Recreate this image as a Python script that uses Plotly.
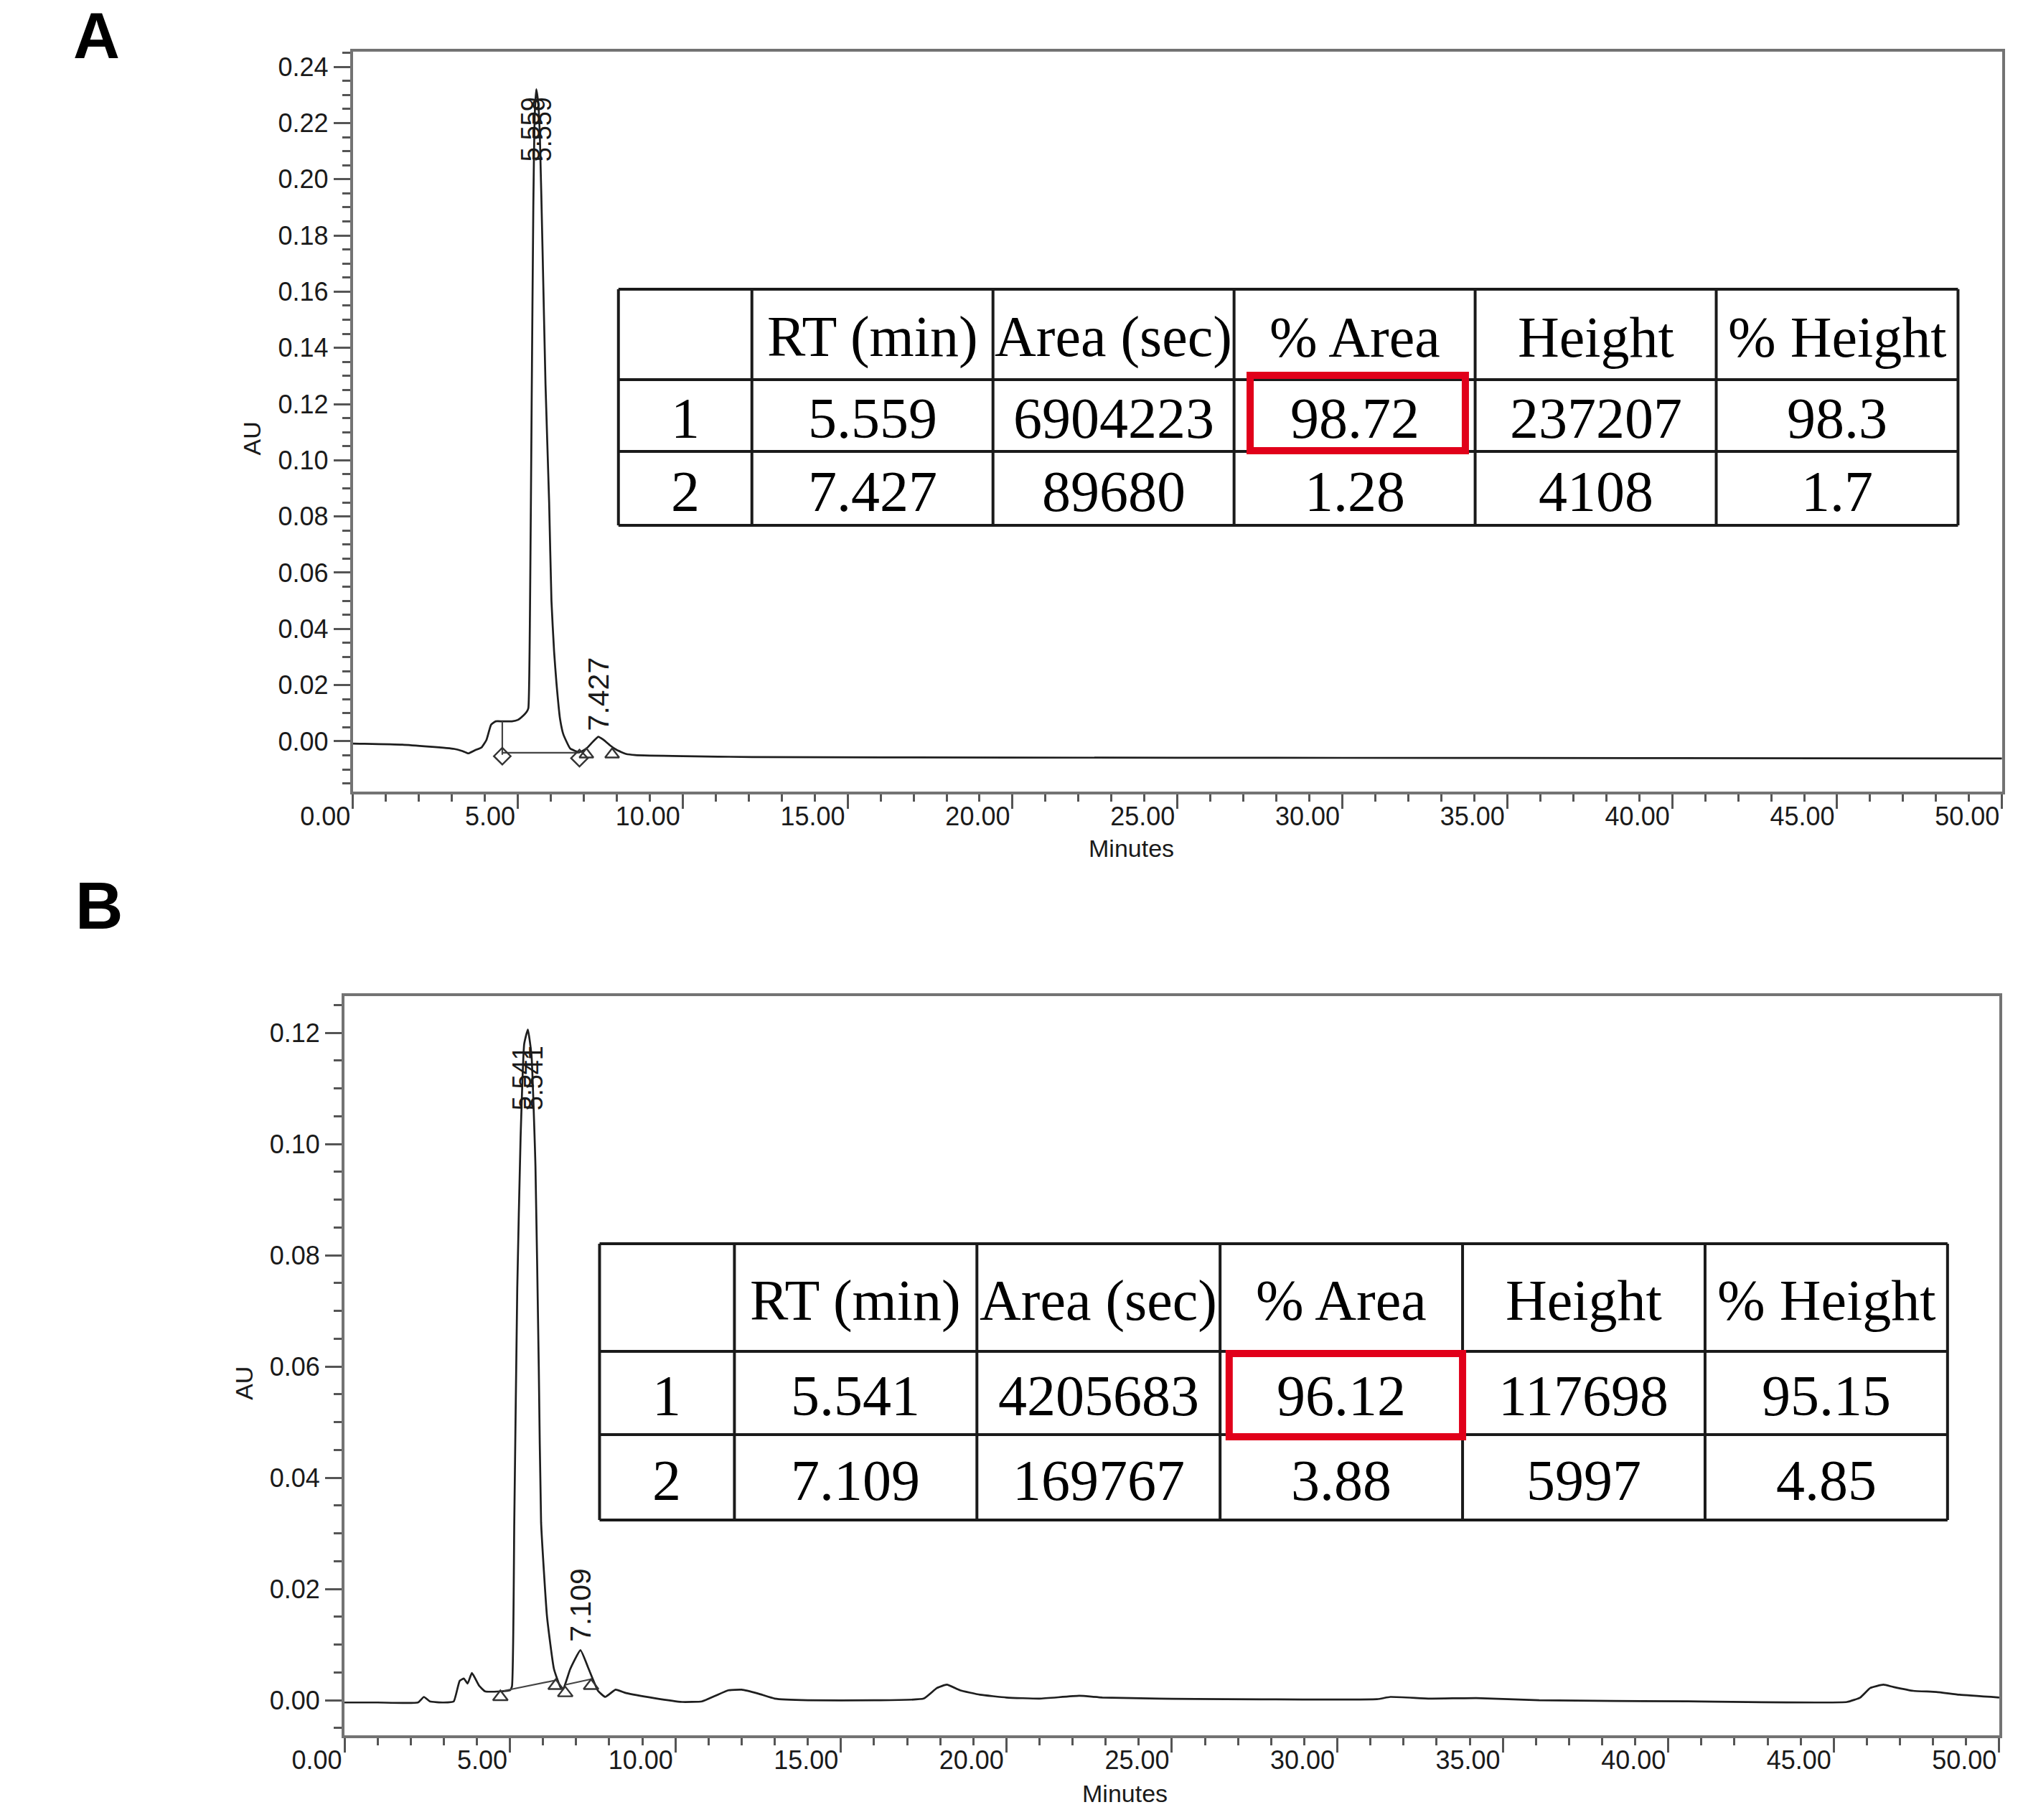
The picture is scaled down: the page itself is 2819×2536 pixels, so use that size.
import plotly.graph_objects as go

W, H = 2819, 2536

# ---------------- data ----------------
# Panel A chromatogram (minutes, AU)
tA = [0.0, 1.5, 3.07, 3.3, 3.5, 3.7, 3.9, 4.05, 4.19, 4.33, 4.53, 4.82, 5.0, 5.18, 5.27,
      5.32, 5.37, 5.42, 5.47, 5.51, 5.56, 5.62, 5.67, 5.75, 5.84, 5.95, 6.02, 6.10, 6.17, 6.28,
      6.38, 6.59, 6.87, 7.08, 7.25, 7.44, 7.60, 7.80, 8.00, 8.28, 8.56, 10.0, 12.1, 20.0, 30.0,
      40.0, 50.0]
vA = [-0.0008, -0.0012, -0.0027, -0.0034, -0.0043, -0.0032, -0.0022, 0.0005, 0.0059, 0.0071,
      0.0071, 0.0071, 0.0076, 0.0093, 0.0105, 0.0118, 0.047, 0.120, 0.190, 0.222,
      0.232, 0.227, 0.215, 0.175, 0.127, 0.085, 0.050, 0.032, 0.021, 0.008,
      0.0025, -0.0026, -0.0039, -0.0026, -0.0005, 0.0016, 0.0005, -0.0015, -0.0031, -0.0045,
      -0.0049, -0.0053, -0.0056, -0.0058, -0.0059, -0.0060, -0.0061]

# Panel B chromatogram
tB = [0.0, 1.0, 2.22, 2.40, 2.58, 3.0, 3.30, 3.48, 3.61, 3.72, 3.85, 4.07, 4.25, 4.71, 5.00,
      5.06, 5.13, 5.22, 5.32, 5.43, 5.54, 5.65, 5.77, 5.87, 5.94, 6.12, 6.33, 6.54, 6.62, 6.82,
      7.13, 7.38, 7.66, 7.88, 8.19, 8.51, 9.35, 10.2, 10.8, 11.2, 11.6, 12.0, 12.5, 13.0, 14.0,
      16.0, 17.5, 17.9, 18.2, 18.6, 19.2, 20.0, 21.0, 22.2, 22.9, 24.6, 31.2, 31.6, 32.8, 34.2,
      36.1, 40.6, 45.4, 45.8, 46.1, 46.5, 46.8, 47.4, 48.1, 48.8, 50.0]
vB = [-0.0004, -0.0004, -0.0004, 0.0006, -0.0002, -0.0004, -0.0002, 0.0035, 0.0039, 0.0030,
      0.0049, 0.0026, 0.0016, 0.0016, 0.0018, 0.0025, 0.032, 0.074, 0.101, 0.118,
      0.1206, 0.116, 0.096, 0.060, 0.032, 0.015, 0.0056, 0.0022, 0.0022, 0.0056,
      0.0090, 0.0056, 0.0017, 0.0006, 0.0019, 0.0013, 0.0004, -0.0003, -0.0002, 0.0008,
      0.0018, 0.0019, 0.0012, 0.0003, 0.0000, 0.0000, 0.0003, 0.0022, 0.0028, 0.0018,
      0.0010, 0.0005, 0.0003, 0.0008, 0.0005, 0.0003, 0.0002, 0.0006, 0.0003, 0.0004,
      0.0000, -0.0002, -0.0003, 0.0005, 0.0022, 0.0028, 0.0024, 0.0017, 0.0015, 0.0010,
      0.0005]

# Peak labels (text, label position in minutes, label centre height in AU)
rtA = ["5.559", "7.427"]
rtA_x = [5.559, 7.44]
rtA_y = [0.2178, 0.0169]
rtB = ["5.541", "7.109"]
rtB_x = [5.541, 7.13]
rtB_y = [0.1118, 0.0172]

# integration markers
A_diam_t = [4.53, 6.87]
A_diam_v = [-0.0053, -0.0060]
A_tri_t = [7.08, 7.86]
A_tri_v = [-0.0047, -0.0047]
A_drop_t = [4.53, 4.53]
A_drop_v = [0.0071, -0.0048]
A_base_t = [4.53, 6.87]
A_base_v = [-0.0041, -0.0041]

B_tri_t = [4.71, 6.38, 6.67, 7.45]
B_tri_v = [0.0006, 0.0026, 0.0013, 0.0026]
B_base1_t = [4.81, 6.38]
B_base1_v = [0.0017, 0.0036]
B_base2_t = [6.68, 7.45]
B_base2_v = [0.0028, 0.0038]

# tables
headers = ["", "RT (min)", "Area (sec)", "% Area", "Height", "% Height"]
rowsA = [["1", "5.559", "6904223", "98.72", "237207", "98.3"],
         ["2", "7.427", "89680", "1.28", "4108", "1.7"]]
rowsB = [["1", "5.541", "4205683", "96.12", "117698", "95.15"],
         ["2", "7.109", "169767", "3.88", "5997", "4.85"]]

# ---------------- layout helpers ----------------
def PX(x):
    return x / W

def PY(y):
    return 1 - y / H

TICKFONT = dict(family="Liberation Sans, Arial", size=36, color="#1a1a1a")
FRAME = "#737373"
TICKC = "#555555"
LINEC = "#1e1e1e"

fig = go.Figure()

# traces
fig.add_trace(go.Scatter(x=tA, y=vA, mode="lines", line=dict(color=LINEC, width=2.7, shape="spline", smoothing=0.4),
                         xaxis="x", yaxis="y", showlegend=False, hoverinfo="skip"))
fig.add_trace(go.Scatter(x=tB, y=vB, mode="lines", line=dict(color=LINEC, width=2.7, shape="spline", smoothing=0.4),
                         xaxis="x2", yaxis="y2", showlegend=False, hoverinfo="skip"))

# integration lines / markers
for tt, vv in [(A_drop_t, A_drop_v), (A_base_t, A_base_v)]:
    fig.add_trace(go.Scatter(x=tt, y=vv, mode="lines", line=dict(color="#444", width=2.2),
                             xaxis="x", yaxis="y", showlegend=False, hoverinfo="skip"))
for tt, vv in [(B_base1_t, B_base1_v), (B_base2_t, B_base2_v)]:
    fig.add_trace(go.Scatter(x=tt, y=vv, mode="lines", line=dict(color="#444", width=2.2),
                             xaxis="x2", yaxis="y2", showlegend=False, hoverinfo="skip"))
fig.add_trace(go.Scatter(x=A_diam_t, y=A_diam_v, mode="markers",
                         marker=dict(symbol="diamond-open", size=18, color="#333", line=dict(width=2.4)),
                         xaxis="x", yaxis="y", showlegend=False, hoverinfo="skip"))
fig.add_trace(go.Scatter(x=A_tri_t, y=A_tri_v, mode="markers",
                         marker=dict(symbol="triangle-up-open", size=17, color="#333", line=dict(width=2.4)),
                         xaxis="x", yaxis="y", showlegend=False, hoverinfo="skip"))
fig.add_trace(go.Scatter(x=B_tri_t, y=B_tri_v, mode="markers",
                         marker=dict(symbol="triangle-up-open", size=18, color="#333", line=dict(width=2.4)),
                         xaxis="x2", yaxis="y2", showlegend=False, hoverinfo="skip"))

def xaxis_cfg(domain, anchor):
    return dict(domain=domain, anchor=anchor, range=[0, 50], dtick=5, tick0=0, tickformat=".2f",
                ticks="outside", ticklen=20, tickwidth=3, tickcolor=TICKC,
                minor=dict(dtick=1, ticks="outside", ticklen=10, tickwidth=3, tickcolor=TICKC),
                showline=True, linecolor=FRAME, linewidth=4, mirror=True,
                showgrid=False, zeroline=False, tickfont=TICKFONT,
                ticklabelposition="outside left", fixedrange=True)

def yaxis_cfg(domain, anchor, rng):
    return dict(domain=domain, anchor=anchor, range=rng, dtick=0.02, tick0=0, tickformat=".2f",
                ticks="outside", ticklen=23, tickwidth=3, tickcolor=TICKC,
                minor=dict(dtick=0.005, ticks="outside", ticklen=11, tickwidth=3, tickcolor=TICKC),
                showline=True, linecolor=FRAME, linewidth=4, mirror=True,
                showgrid=False, zeroline=False, tickfont=TICKFONT, fixedrange=True)

fig.update_layout(
    width=W, height=H, margin=dict(l=0, r=0, t=0, b=0),
    paper_bgcolor="white", plot_bgcolor="white", showlegend=False,
    xaxis=xaxis_cfg([PX(429), PX(2789)], "y"),
    yaxis=yaxis_cfg([PY(1103), PY(72)], "x", [-0.0179, 0.2454]),
    xaxis2=xaxis_cfg([PX(417), PX(2785)], "y2"),
    yaxis2=yaxis_cfg([PY(2418), PY(1388)], "x2", [-0.0063, 0.1266]),
)

ann = []
shapes = []

# panel letters
ann.append(dict(x=PX(27), y=PY(50), xref="paper", yref="paper", text="<b>A</b>", showarrow=False,
                xanchor="left", yanchor="middle", font=dict(family="Liberation Sans, Arial", size=90, color="black")))
ann.append(dict(x=PX(30), y=PY(1262), xref="paper", yref="paper", text="<b>B</b>", showarrow=False,
                xanchor="left", yanchor="middle", font=dict(family="Liberation Sans, Arial", size=92, color="black")))

# axis titles
AXT = dict(family="Liberation Sans, Arial", size=34, color="#1a1a1a")
ann.append(dict(x=PX(284), y=PY(611), xref="paper", yref="paper", text="AU", textangle=-90, showarrow=False,
                xanchor="center", yanchor="middle", font=AXT))
ann.append(dict(x=PX(273), y=PY(1927), xref="paper", yref="paper", text="AU", textangle=-90, showarrow=False,
                xanchor="center", yanchor="middle", font=AXT))
ann.append(dict(x=PX(1543), y=PY(1182), xref="paper", yref="paper", text="Minutes", showarrow=False,
                xanchor="center", yanchor="middle", font=AXT))
ann.append(dict(x=PX(1534), y=PY(2499), xref="paper", yref="paper", text="Minutes", showarrow=False,
                xanchor="center", yanchor="middle", font=AXT))

# peak labels
PKF = dict(family="Liberation Sans, Arial", size=41, color="#1a1a1a")
PKF2 = dict(family="Liberation Sans, Arial", size=36, color="#1a1a1a")

def peak_labels(labels, xs, ys, xr, yr):
    for i, (lab, xx, yy) in enumerate(zip(labels, xs, ys)):
        if i == 0:
            for sh in (-8, 8):
                ann.append(dict(x=xx, y=yy, xref=xr, yref=yr, text=lab, textangle=-90, showarrow=False,
                                xanchor="center", yanchor="middle", xshift=sh, font=PKF2))
        else:
            ann.append(dict(x=xx, y=yy, xref=xr, yref=yr, text=lab, textangle=-90, showarrow=False,
                            xanchor="center", yanchor="middle", font=PKF))

peak_labels(rtA, rtA_x, rtA_y, "x", "y")
peak_labels(rtB, rtB_x, rtB_y, "x2", "y2")

# tables
TBF = dict(family="Liberation Serif, Times New Roman", size=80, color="black")

def draw_table(cols, rows_y, rows, red):
    for cx in cols:
        shapes.append(dict(type="line", xref="paper", yref="paper", x0=PX(cx), x1=PX(cx),
                           y0=PY(rows_y[0]), y1=PY(rows_y[-1]), line=dict(color="#1a1a1a", width=4)))
    for ry in rows_y:
        shapes.append(dict(type="line", xref="paper", yref="paper", x0=PX(cols[0]), x1=PX(cols[-1]),
                           y0=PY(ry), y1=PY(ry), line=dict(color="#1a1a1a", width=4)))
    table = [headers] + rows
    for r, row in enumerate(table):
        cy = (rows_y[r] + rows_y[r + 1]) / 2 + 4
        for c, txt in enumerate(row):
            if not txt:
                continue
            cx = (cols[c] + cols[c + 1]) / 2
            ann.append(dict(x=PX(cx), y=PY(cy), xref="paper", yref="paper", text=txt, showarrow=False,
                            xanchor="center", yanchor="middle", font=TBF))
    x0, y0, x1, y1 = red
    shapes.append(dict(type="rect", xref="paper", yref="paper", x0=PX(x0), x1=PX(x1), y0=PY(y1), y1=PY(y0),
                       line=dict(color="#e1001a", width=10)))

draw_table([809, 1000, 1345, 1690, 2035, 2380, 2726], [403, 529, 629, 732], rowsA, (1713, 523, 2021, 628))
draw_table([782, 975, 1322, 1670, 2017, 2364, 2711], [1733, 1883, 1999, 2118], rowsB, (1683, 1886, 2017, 2002))

fig.update_layout(annotations=ann, shapes=shapes)

fig.write_html("out.html", config={"displayModeBar": False, "staticPlot": True},
               post_script="document.body.style.margin='0';document.body.style.overflow='hidden';")
